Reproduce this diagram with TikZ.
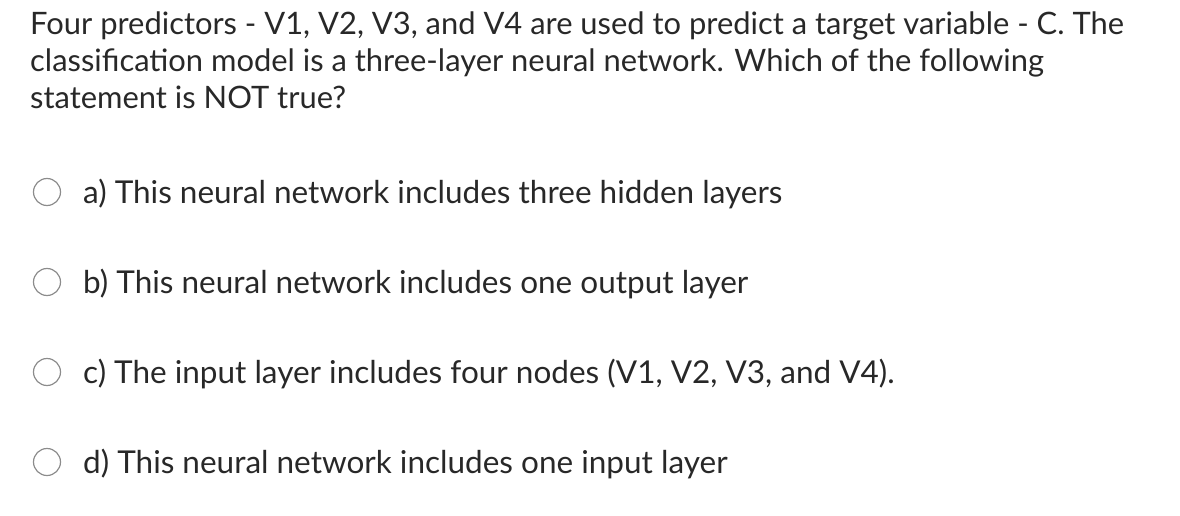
\documentclass[tikz,border=0pt]{standalone}
\usepackage{fontspec}
\setmainfont{Lato}
\definecolor{txt}{RGB}{40,40,40}
\definecolor{ring}{RGB}{140,140,140}
\begin{document}
\begin{tikzpicture}[x=1pt,y=-1pt,
  txtline/.style={anchor=base west,inner sep=0pt,text=txt,font=\fontsize{30.9}{36}\selectfont},
  optline/.style={txtline,font=\fontsize{31.5}{36}\selectfont},
  radio/.style={circle,draw=ring,line width=1.2pt,minimum size=27pt,inner sep=0pt}]
\useasboundingbox (0,0) rectangle (1180,516);
\node[txtline] (q1) at (30,35) {Four predictors - V1, V2, V3, and V4 are used to predict a target variable - C. The};
\node[txtline] (q2) at (30,72) {classification model is a three-layer neural network. Which of the following};
\node[txtline] (q3) at (30,109) {statement is NOT true?};
\node[radio] (ra) at (47,192) {};
\node[optline] (oa) at (83,203) {a) This neural network includes three hidden layers};
\node[radio] (rb) at (47,282) {};
\node[optline] (ob) at (83,293) {b) This neural network includes one output layer};
\node[radio] (rc) at (47,372) {};
\node[optline] (oc) at (83,383) {c) The input layer includes four nodes (V1, V2, V3, and V4).};
\node[radio] (rd) at (47,462) {};
\node[optline] (od) at (83,473) {d) This neural network includes one input layer};
\end{tikzpicture}
\end{document}
